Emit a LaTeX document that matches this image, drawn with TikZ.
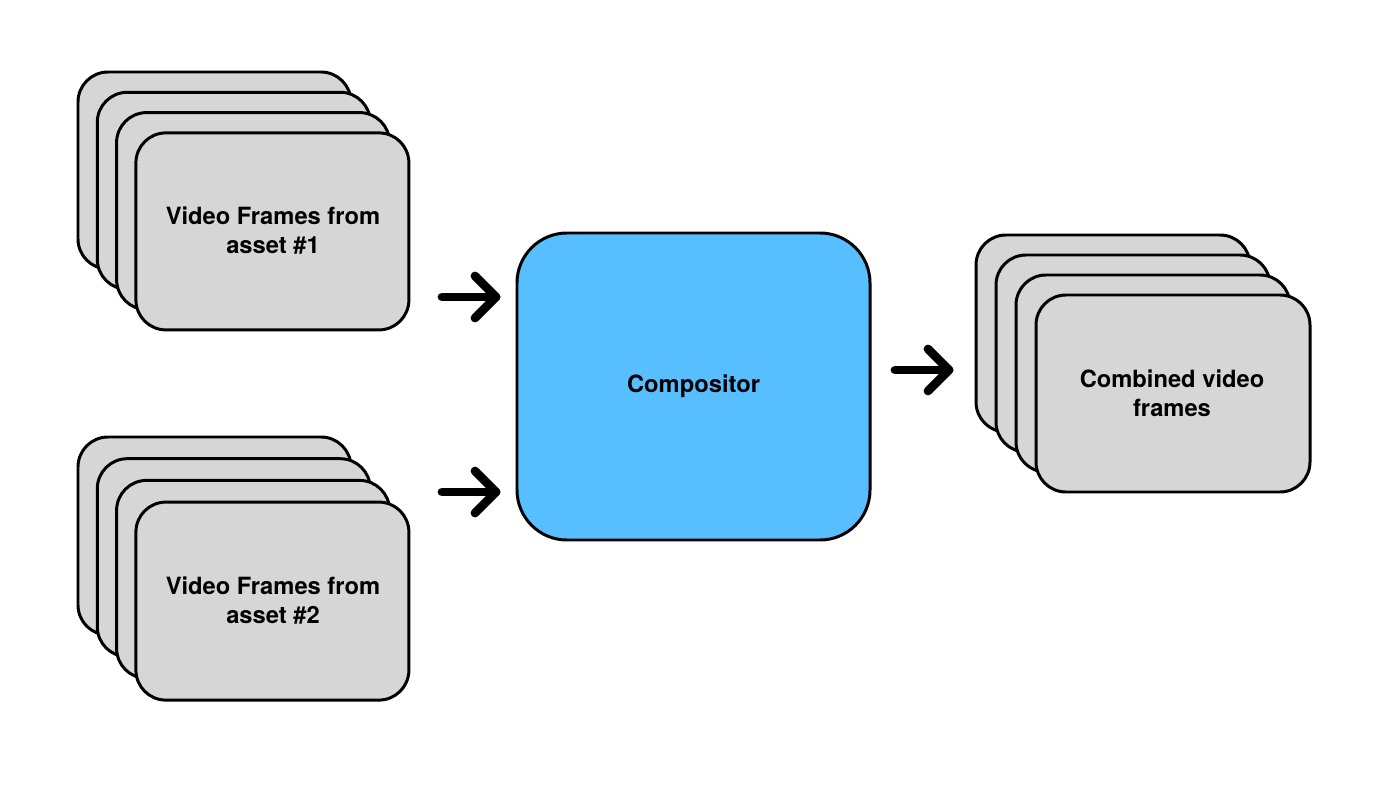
\documentclass[tikz,border=0pt]{standalone}
\usepackage{fontspec}
\setmainfont{TeX Gyre Heros}
\begin{document}
\begin{tikzpicture}[x=0.02cm,y=-0.02cm,
  card/.style={draw=black,line width=1.7pt,fill={rgb,255:red,214;green,214;blue,214},rounded corners=0.6cm},
  lbl/.style={align=center,font=\fontsize{13.5}{16.5}\selectfont\bfseries},
  arr/.style={line width=5pt,line cap=round,line join=round}]
\useasboundingbox (0,0) rectangle (1400,797);
% stack 1
\foreach \i in {0,1,2,3}{
  \draw[card] (78+19.3*\i,72+20.3*\i) rectangle ++(273,197);}
\node[lbl] (a1) at (273,231) {Video Frames from\\asset \#1};
% stack 2
\foreach \i in {0,1,2,3}{
  \draw[card] (78+19.3*\i,437+21.7*\i) rectangle ++(273,198);}
\node[lbl] (a2) at (273,601) {Video Frames from\\asset \#2};
% output
\foreach \i in {0,1,2,3}{
  \draw[card] (976+20*\i,235+20*\i) rectangle ++(274,197);}
\node[lbl] (out) at (1172,393) {Combined video\\frames};
% compositor
\node[draw=black,line width=1.7pt,fill={rgb,255:red,87;green,191;blue,255},rounded corners=1cm,
  minimum width=353*0.02cm,minimum height=307*0.02cm,lbl] (comp) at (693.5,386.5) {Compositor};
\coordinate (p1s) at (442,297); \coordinate (p1e) at (496,297);
\coordinate (p2s) at (442,492); \coordinate (p2e) at (496,492);
\coordinate (p3s) at (895,370); \coordinate (p3e) at (949,370);
\foreach \s/\e in {p1s/p1e,p2s/p2e,p3s/p3e}{
  \draw[arr] (\s) -- (\e);
  \draw[arr] ([shift={(-21,-21)}]\e) -- (\e) -- ([shift={(-21,21)}]\e);}
\end{tikzpicture}
\end{document}
